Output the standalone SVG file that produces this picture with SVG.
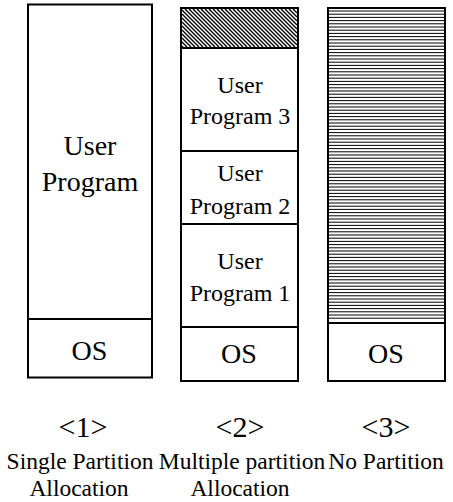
<svg xmlns="http://www.w3.org/2000/svg" width="453" height="502" viewBox="0 0 453 502" font-family="'Liberation Serif', 'Times New Roman', serif">
  <style>
    .box { fill: none; stroke: #000; stroke-width: 2; }
  </style>
  <rect width="453" height="502" fill="#fff"/>

  <g id="col1">
    <g class="box">
      <rect x="28" y="4.5" width="124" height="373"/>
      <line x1="28" y1="319" x2="152" y2="319"/>
    </g>
    <text x="90" y="155" text-anchor="middle" style="font-family:'Liberation Serif','Times New Roman',serif;font-size:28px">User</text>
    <text x="90" y="191" text-anchor="middle" style="font-family:'Liberation Serif','Times New Roman',serif;font-size:28px">Program</text>
    <text x="89.5" y="360" text-anchor="middle" style="font-family:'Liberation Serif','Times New Roman',serif;font-size:28px">OS</text>
  </g>

  <g id="col2">
    <path fill="none" stroke="#000" stroke-width="1.4" d="M182 46l1 1M182 42l5 5M182 38l9 9M182 34l13 13M182 30l17 17M182 26l21 21M182 22l25 25M182 18l29 29M182 14l33 33M182 10l37 37M185 9l38 38M189 9l38 38M193 9l38 38M197 9l38 38M201 9l38 38M205 9l38 38M209 9l38 38M213 9l38 38M217 9l38 38M221 9l38 38M225 9l38 38M229 9l38 38M233 9l38 38M237 9l38 38M241 9l38 38M245 9l38 38M249 9l38 38M253 9l38 38M257 9l38 38M261 9l36 36M265 9l32 32M269 9l28 28M273 9l24 24M277 9l20 20M281 9l16 16M285 9l12 12M289 9l8 8M293 9l4 4"/>
    <g class="box">
      <rect x="181" y="8" width="117" height="373"/>
      <line x1="181" y1="48" x2="298" y2="48"/>
      <line x1="181" y1="151" x2="298" y2="151"/>
      <line x1="181" y1="224" x2="298" y2="224"/>
      <line x1="181" y1="327" x2="298" y2="327"/>
    </g>
    <text x="240" y="93" text-anchor="middle" style="font-family:'Liberation Serif','Times New Roman',serif;font-size:24px">User</text>
    <text x="240" y="124" text-anchor="middle" style="font-family:'Liberation Serif','Times New Roman',serif;font-size:24px">Program 3</text>
    <text x="240" y="181" text-anchor="middle" style="font-family:'Liberation Serif','Times New Roman',serif;font-size:24px">User</text>
    <text x="240" y="214" text-anchor="middle" style="font-family:'Liberation Serif','Times New Roman',serif;font-size:24px">Program 2</text>
    <text x="240" y="269" text-anchor="middle" style="font-family:'Liberation Serif','Times New Roman',serif;font-size:24px">User</text>
    <text x="240" y="301" text-anchor="middle" style="font-family:'Liberation Serif','Times New Roman',serif;font-size:24px">Program 1</text>
    <text x="239" y="363" text-anchor="middle" style="font-family:'Liberation Serif','Times New Roman',serif;font-size:28px">OS</text>
  </g>

  <g id="col3">
    <path fill="none" stroke="#000" stroke-width="1" d="M329 11h115
      m-115 3.2h115m-115 3.2h115m-115 3.2h115m-115 3.2h115m-115 3.2h115m-115 3.2h115m-115 3.2h115m-115 3.2h115
      m-115 3.2h115m-115 3.2h115m-115 3.2h115m-115 3.2h115m-115 3.2h115m-115 3.2h115m-115 3.2h115m-115 3.2h115
      m-115 3.2h115m-115 3.2h115m-115 3.2h115m-115 3.2h115m-115 3.2h115m-115 3.2h115m-115 3.2h115m-115 3.2h115
      m-115 3.2h115m-115 3.2h115m-115 3.2h115m-115 3.2h115m-115 3.2h115m-115 3.2h115m-115 3.2h115m-115 3.2h115
      m-115 3.2h115m-115 3.2h115m-115 3.2h115m-115 3.2h115m-115 3.2h115m-115 3.2h115m-115 3.2h115m-115 3.2h115
      m-115 3.2h115m-115 3.2h115m-115 3.2h115m-115 3.2h115m-115 3.2h115m-115 3.2h115m-115 3.2h115m-115 3.2h115
      m-115 3.2h115m-115 3.2h115m-115 3.2h115m-115 3.2h115m-115 3.2h115m-115 3.2h115m-115 3.2h115m-115 3.2h115
      m-115 3.2h115m-115 3.2h115m-115 3.2h115m-115 3.2h115m-115 3.2h115m-115 3.2h115m-115 3.2h115m-115 3.2h115
      m-115 3.2h115m-115 3.2h115m-115 3.2h115m-115 3.2h115m-115 3.2h115m-115 3.2h115m-115 3.2h115m-115 3.2h115
      m-115 3.2h115m-115 3.2h115m-115 3.2h115m-115 3.2h115m-115 3.2h115m-115 3.2h115m-115 3.2h115m-115 3.2h115
      m-115 3.2h115m-115 3.2h115m-115 3.2h115m-115 3.2h115m-115 3.2h115m-115 3.2h115m-115 3.2h115m-115 3.2h115
      m-115 3.2h115m-115 3.2h115m-115 3.2h115m-115 3.2h115m-115 3.2h115m-115 3.2h115m-115 3.2h115m-115 3.2h115"/>
    <g class="box">
      <rect x="328" y="8" width="117" height="373"/>
      <line x1="328" y1="323" x2="445" y2="323"/>
    </g>
    <text x="386" y="363" text-anchor="middle" style="font-family:'Liberation Serif','Times New Roman',serif;font-size:28px">OS</text>
  </g>

  <g id="label1">
    <text x="83" y="437" text-anchor="middle" style="font-family:'Liberation Serif','Times New Roman',serif;font-size:30px">&lt;1&gt;</text>
    <text x="80" y="469" text-anchor="middle" style="font-family:'Liberation Serif','Times New Roman',serif;font-size:23.5px">Single Partition</text>
    <text x="79" y="496" text-anchor="middle" style="font-family:'Liberation Serif','Times New Roman',serif;font-size:23.5px">Allocation</text>
  </g>
  <g id="label2">
    <text x="240" y="437" text-anchor="middle" style="font-family:'Liberation Serif','Times New Roman',serif;font-size:30px">&lt;2&gt;</text>
    <text x="242" y="469" text-anchor="middle" style="font-family:'Liberation Serif','Times New Roman',serif;font-size:23.5px">Multiple partition</text>
    <text x="240" y="496" text-anchor="middle" style="font-family:'Liberation Serif','Times New Roman',serif;font-size:23.5px">Allocation</text>
  </g>
  <g id="label3">
    <text x="386" y="437" text-anchor="middle" style="font-family:'Liberation Serif','Times New Roman',serif;font-size:30px">&lt;3&gt;</text>
    <text x="386" y="469" text-anchor="middle" style="font-family:'Liberation Serif','Times New Roman',serif;font-size:23.5px">No Partition</text>
  </g>
</svg>
